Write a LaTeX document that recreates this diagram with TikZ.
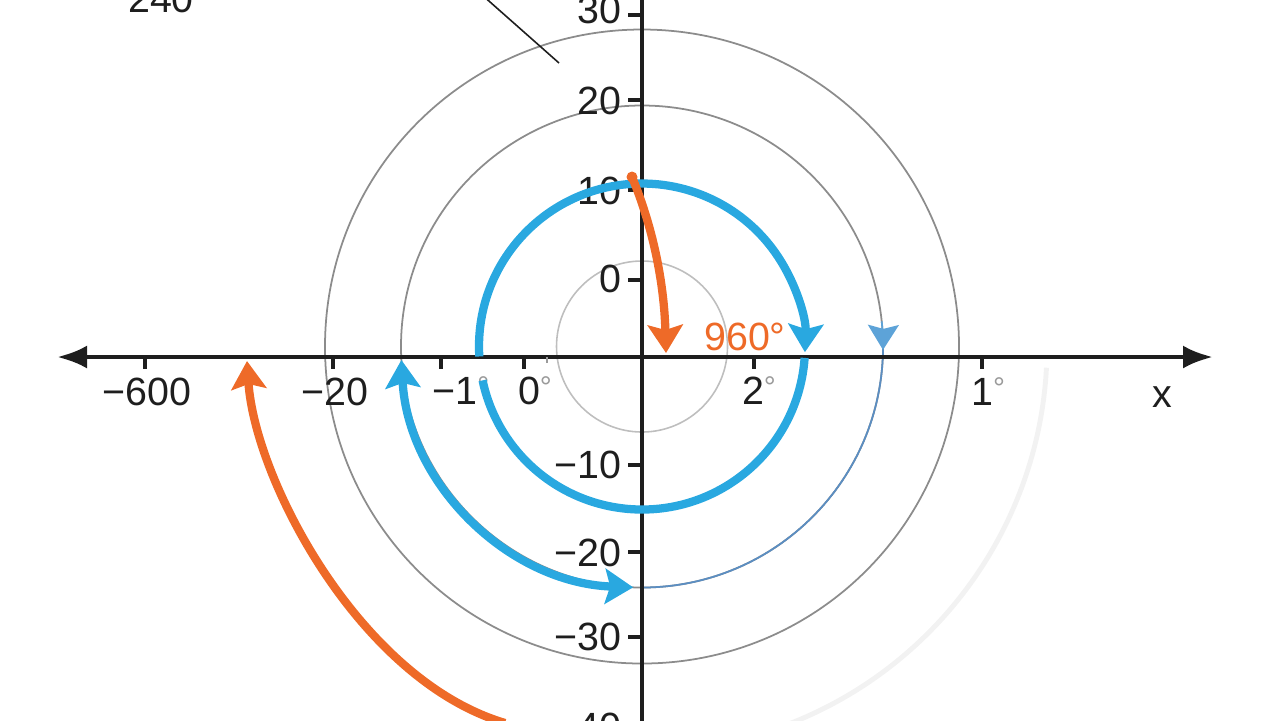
\documentclass[tikz,border=0pt]{standalone}
\usepackage{fontspec}
\setmainfont{Liberation Sans}
\usetikzlibrary{arrows.meta}
\definecolor{ora}{HTML}{EE6A28}
\definecolor{blu}{HTML}{29A8E0}
\definecolor{lblu}{HTML}{5DA3D8}
\definecolor{sblu}{HTML}{5B8EC2}
\definecolor{gcir}{HTML}{8C8C8C}
\definecolor{gin}{HTML}{BEBEBE}
\definecolor{axc}{HTML}{1E1E1E}
\definecolor{degc}{HTML}{9A9A9A}
\newcommand\smdeg{{\color{degc}\fontsize{8.5}{8.5}\selectfont\raisebox{2pt}{°}}}
\begin{document}
\begin{tikzpicture}[x=0.01cm,y=-0.01cm,
  lab/.style={font=\fontsize{11.2}{13}\selectfont, text=axc, inner sep=0pt},
  ring/.style={draw=gcir, line width=0.5pt},
  ytick/.style={draw=axc, line width=1pt},
  colarc/.style={line width=2.35pt},
  ah/.tip={Stealth[length=0.28cm,width=0.35cm,inset=0.05cm]},
  axtip/.tip={Latex[length=0.3cm,width=0.23cm]}]
\useasboundingbox (0,0) rectangle (1280,720);
\clip (0,0) rectangle (1280,720);
\coordinate (C) at (642,346.5);
% faint outer circle
\draw[draw=black!5, line width=1.4pt] (C) ++(3:405) arc[start angle=3, end angle=72, radius=405];
% rings
\draw[draw=gin, line width=0.45pt] (C) circle[radius=85.5];
\draw[ring] (C) circle[radius=241];
\draw[ring] (C) circle[radius=317];
\draw[draw=sblu, line width=0.5pt] (C) ++(0:241) arc[start angle=0, end angle=90, radius=241];
% axes
\coordinate (xl) at (57,357);
\coordinate (xr) at (1213,357);
\coordinate (yt) at (642,-5);
\coordinate (yb) at (642,725);
\draw[axc, line width=1.35pt, {axtip}-{axtip}] (xl) -- (xr);
\draw[axc, line width=1.35pt] (yt) -- (yb);
% y ticks
\foreach \y in {15,100,190,280,465,552,637} \draw[ytick] (628,\y) -- (642,\y);
% x ticks
\foreach \x in {145,333,441,524,754,982} \draw[ytick] (\x,357) -- (\x,369);
\draw[degc, line width=0.6pt] (547,357) -- (547,363);
% y labels
\node[lab, anchor=east] (l30) at (622,10) {30};
\node[lab, anchor=east] (l20) at (622,101) {20};
\node[lab, anchor=east] (l10) at (622,191) {10};
\node[lab, anchor=east] (l0) at (622,279) {0};
\node[lab, anchor=east] (lm10) at (622,465) {−10};
\node[lab, anchor=east] (lm20) at (622,553) {−20};
\node[lab, anchor=east] (lm30) at (622,637) {−30};
\node[lab, anchor=east] (lm40) at (622,727) {−40};
% x labels
\node[lab] (xm600) at (147,392) {−600};
\node[lab] (xm20) at (335,392) {−20};
\node[lab] (xm1) at (461,391) {−1\smdeg};
\node[lab] (x0) at (535,391) {0\smdeg};
\node[lab] (x2) at (759,391) {2\smdeg};
\node[lab] (x1) at (988,392) {1\smdeg};
\node[lab] (xname) at (1162,397) {x};
\node[lab] (l240) at (161,-1) {240};
\node[lab, text=ora] (ang) at (745,337) {960°};
% pointer line
\coordinate (p1) at (481,-6);
\coordinate (p2) at (559,63);
\draw[axc, line width=0.45pt] (p1) -- (p2);
% blue circle
\draw[blu, colarc, -{ah}] (C) ++(-183.5:163) arc[start angle=-183.5, end angle=2, radius=163];
\draw[blu, colarc] (C) ++(4:163) arc[start angle=4, end angle=168, radius=163];
% blue double arrow
\draw[blu, colarc, {ah}-{ah}] (C) ++(-183.2:241) arc[start angle=-183.2, end angle=-267.9, radius=241];
% light-blue arrowhead
\draw[lblu, line width=0.5pt, -{Stealth[length=0.25cm,width=0.31cm,inset=0.04cm]}] (C) ++(-6:241) arc[start angle=-6, end angle=0.8, radius=241];
% orange long arrow
\coordinate (ob) at (505,723);
\coordinate (ot) at (247,361);
\draw[ora, colarc, -{ah}] (ob) .. controls (360,680) and (255,480) .. (ot);
% orange short arrow
\coordinate (os) at (632,177);
\coordinate (oe) at (666,353);
\fill[ora] (os) circle[radius=5.5];
\draw[ora, colarc, line cap=round, -{ah}] (os) .. controls (652,225) and (664,280) .. (oe);
\end{tikzpicture}
\end{document}
